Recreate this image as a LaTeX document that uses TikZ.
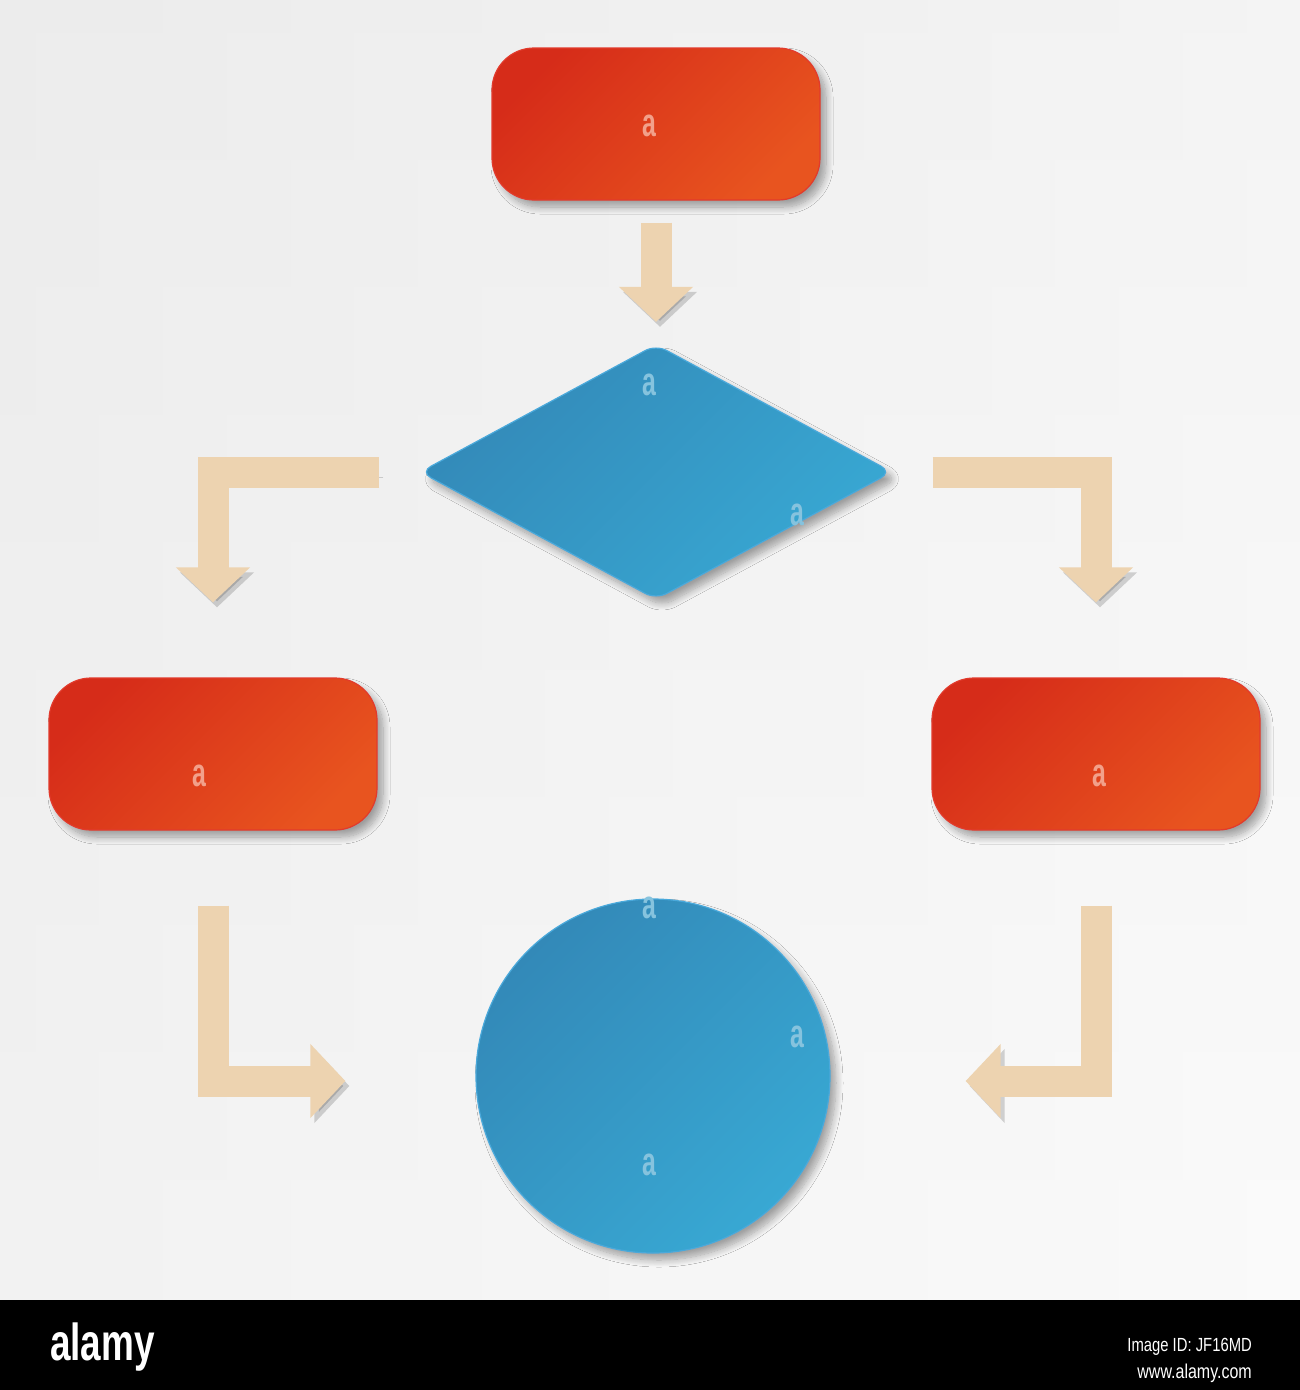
\documentclass[tikz,border=0pt]{standalone}
\usepackage{fontspec}
\setmainfont{Liberation Sans}
\usetikzlibrary{shapes.geometric,arrows.meta,shadows.blur}
\definecolor{redA}{HTML}{D62C19}
\definecolor{redC}{HTML}{E8541F}
\definecolor{redE}{HTML}{E23A2C}
\definecolor{bluA}{HTML}{3389B8}
\definecolor{bluC}{HTML}{38A8D3}
\definecolor{bluE}{HTML}{4AA9DB}
\definecolor{beige}{HTML}{EDD3B0}
\definecolor{wmred}{HTML}{F2A08A}
\definecolor{wmblue}{HTML}{86C3DE}
\begin{document}
\begin{tikzpicture}[x=1pt,y=-1pt,
  shd/.style={blur shadow={shadow xshift=6pt, shadow yshift=-7pt, shadow blur radius=7pt, shadow blur steps=10, shadow opacity=35}},
  rbox/.style={rectangle, rounded corners=42pt, minimum width=328pt, minimum height=152pt, inner sep=0pt,
     draw=redE, line width=1.2pt, top color=redA, bottom color=redC, shading angle=45, shd},
  bshape/.style={draw=bluE, line width=1.2pt, top color=bluA, bottom color=bluC, shading angle=45, inner sep=0pt, shd},
  arr/.style={line width=31pt, draw=beige, line join=miter, -{Triangle[width=72pt,length=35pt]},
     preaction={draw=black, opacity=0.16, transform canvas={shift={(4pt,-5pt)}}}},
  wm/.style={inner sep=0pt, font=\fontsize{40}{40}\selectfont\bfseries}]
\useasboundingbox (0,0) rectangle (1300,1390);
% background
\shade[left color=black!11, right color=black!3] (0,0) rectangle (1300,1300);
\shade[top color=black!5, bottom color=black!1, opacity=0.6] (0,0) rectangle (1300,1300);
% shapes
\node[rbox] (top) at (656,124) {};
\node[rbox] (lft) at (213,754) {};
\node[rbox] (rgt) at (1096,754) {};
\node[bshape, diamond, rounded corners=12pt, minimum width=472pt, minimum height=255pt, aspect=1.85] (dia) at (656,472) {};
\node[bshape, circle, minimum size=354pt] (circ) at (653,1076) {};
% watermark letters inside shapes
\node[wm, text=wmred] (wa1) at (649,126) {\scalebox{0.62}[1]{a}};
\node[wm, text=wmred] (wa2) at (199,776) {\scalebox{0.62}[1]{a}};
\node[wm, text=wmred] (wa3) at (1099,776) {\scalebox{0.62}[1]{a}};
\node[wm, text=wmblue] (wa4) at (649,385) {\scalebox{0.62}[1]{a}};
\node[wm, text=wmblue] (wa5) at (797,515) {\scalebox{0.62}[1]{a}};
\node[wm, text=wmblue] (wa6) at (649,908) {\scalebox{0.62}[1]{a}};
\node[wm, text=wmblue] (wa7) at (797,1037) {\scalebox{0.62}[1]{a}};
\node[wm, text=wmblue] (wa8) at (649,1165) {\scalebox{0.62}[1]{a}};
% arrows
\draw[arr] ([yshift=-22pt]top.south) -- ([yshift=22pt]dia.north);
\draw[arr] ([xshift=-40pt]dia.west) -| ([yshift=75pt]lft.north);
\draw[arr] ([xshift=40pt]dia.east) -| ([yshift=75pt]rgt.north);
\draw[arr] ([yshift=-75pt]lft.south) |- ([xshift=-130pt,yshift=-5pt]circ.west);
\draw[arr] ([yshift=-75pt]rgt.south) |- ([xshift=135pt,yshift=-5pt]circ.east);
% bottom bar
\fill[black] (0,1300) rectangle (1300,1390);
\node[anchor=base west, white, inner sep=0pt] (logo) at (50,1360) {\fontsize{52}{52}\selectfont\bfseries\scalebox{0.71}[1]{alamy}};
\node[anchor=base east, white, inner sep=0pt] (imgid) at (1252,1351) {\fontsize{19}{19}\selectfont\scalebox{0.78}[1]{Image ID: JF16MD}};
\node[anchor=base east, white, inner sep=0pt] (url) at (1252,1378) {\fontsize{20}{20}\selectfont\scalebox{0.8}[1]{www.alamy.com}};
\end{tikzpicture}
\end{document}
